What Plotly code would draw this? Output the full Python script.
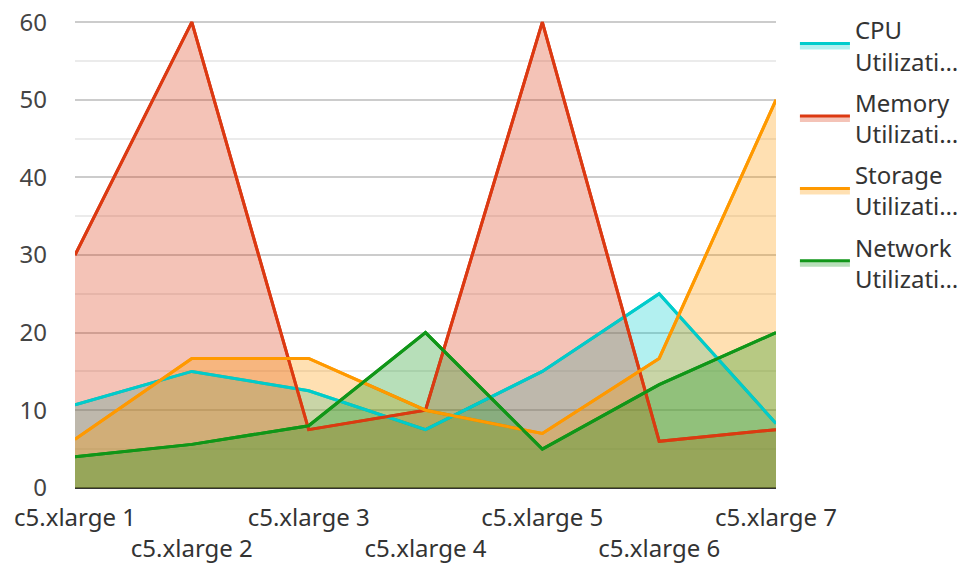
import plotly.graph_objects as go

categories = ["c5.xlarge 1", "c5.xlarge 2", "c5.xlarge 3", "c5.xlarge 4",
              "c5.xlarge 5", "c5.xlarge 6", "c5.xlarge 7"]
series_names = ["CPU<br>Utilizati…", "Memory<br>Utilizati…",
                "Storage<br>Utilizati…", "Network<br>Utilizati…"]
cpu = [10.7, 15, 12.5, 7.5, 15, 25, 8.3]
memory = [30, 60, 7.5, 10, 60, 6, 7.5]
storage = [6.25, 16.67, 16.67, 10, 7, 16.67, 50]
network = [4, 5.6, 8, 20, 5, 13.3, 20]
y_ticks = [0, 10, 20, 30, 40, 50, 60]

colors = ["#00cccc", "#dc3912", "#ff9900", "#109618"]
fills = ["rgba(0,204,204,0.3)", "rgba(220,57,18,0.3)",
         "rgba(255,153,0,0.3)", "rgba(16,150,24,0.3)"]

all_series = [cpu, memory, storage, network]
xs = list(range(len(categories)))

fig = go.Figure()
# fills (with legend entries)
for i, (name, vals, c, f) in enumerate(zip(series_names, all_series, colors, fills)):
    fig.add_trace(go.Scatter(
        x=xs, y=vals, name=name, mode="lines", legendgroup=f"g{i}",
        line=dict(color=c, width=3), fill="tozeroy", fillcolor=f,
        hoverinfo="skip",
    ))
# lines on top of all fills
for i, (name, vals, c) in enumerate(zip(series_names, all_series, colors)):
    fig.add_trace(go.Scatter(
        x=xs, y=vals, name=name, mode="lines", legendgroup=f"g{i}",
        line=dict(color=c, width=3), showlegend=False,
    ))

ticktext = [c if i % 2 == 0 else "<br>" + c for i, c in enumerate(categories)]

# page body has an 8px margin, so the figure is 8px smaller each way
fig.update_layout(
    width=960, height=555,
    margin=dict(l=67, r=192, t=13, b=74, autoexpand=False),
    paper_bgcolor="white", plot_bgcolor="white",
    font=dict(family="Noto Sans", size=24, color="#444"),
    showlegend=True,
    legend=dict(x=1.027, xanchor="left", y=1.028, yanchor="top",
                font=dict(size=24, color="#333"), maxheight=1,
                tracegroupgap=7, itemwidth=50),
    xaxis=dict(
        tickmode="array", tickvals=xs, ticktext=ticktext,
        tickangle=0, range=[0, len(categories) - 1], showgrid=False,
        zeroline=False, showline=False, ticks="", automargin=False,
        ticklabelstandoff=12, tickfont=dict(size=24, color="#333"),
        ticklabeloverflow="allow",
    ),
    yaxis=dict(
        range=[-0.15, 60.15], tickvals=y_ticks, showgrid=True, gridcolor="#cccccc",
        gridwidth=1.5,
        minor=dict(dtick=5, showgrid=True, gridcolor="#ebebeb", gridwidth=1.5),
        zeroline=True, zerolinecolor="#333333", zerolinewidth=2,
        ticks="", ticklabelstandoff=27, automargin=False,
        ticklabeloverflow="allow",
        tickfont=dict(size=24, color="#444"),
    ),
)

fig.write_html("out.html")
